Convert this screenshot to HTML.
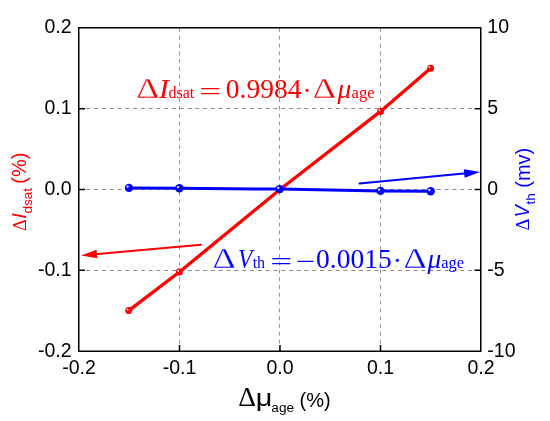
<!DOCTYPE html>
<html><head><meta charset="utf-8"><title>chart</title>
<style>
html,body{margin:0;padding:0;background:#fff;}
body{width:550px;height:421px;overflow:hidden;}
svg{display:block;}

svg text.sn{font-family:'Liberation Sans',Arial,sans-serif;}
svg text.s{font-family:'Liberation Sans',Arial,sans-serif;}
svg text.si{font-family:'Liberation Sans',Arial,sans-serif;font-style:italic;}
svg text.r{font-family:'Liberation Serif','Times New Roman',serif;}
svg text.ri{font-family:'Liberation Serif','Times New Roman',serif;font-style:italic;}
</style></head><body>
<svg width="550" height="421" viewBox="0 0 550 421">
<rect width="550" height="421" fill="#fff"/>
<line x1="179.5" y1="28" x2="179.5" y2="350" stroke="#969696" stroke-width="1" stroke-dasharray="3.9 3.89"/>
<line x1="279.5" y1="28" x2="279.5" y2="350" stroke="#969696" stroke-width="1" stroke-dasharray="3.9 3.89"/>
<line x1="380.5" y1="28" x2="380.5" y2="350" stroke="#969696" stroke-width="1" stroke-dasharray="3.9 3.89"/>
<line x1="78.6" y1="108.5" x2="480" y2="108.5" stroke="#8a8a8a" stroke-width="1" stroke-dasharray="3.9 3.89"/>
<line x1="78.6" y1="189.5" x2="480" y2="189.5" stroke="#8a8a8a" stroke-width="1" stroke-dasharray="3.9 3.89"/>
<line x1="78.6" y1="270.5" x2="480" y2="270.5" stroke="#8a8a8a" stroke-width="1" stroke-dasharray="3.9 3.89"/>
<line x1="79" y1="108.75" x2="85" y2="108.75" stroke="#000" stroke-width="1.5"/>
<line x1="474.5" y1="108.75" x2="480.5" y2="108.75" stroke="#000" stroke-width="1.5"/>
<line x1="79" y1="189.5" x2="85" y2="189.5" stroke="#000" stroke-width="1.5"/>
<line x1="474.5" y1="189.5" x2="480.5" y2="189.5" stroke="#000" stroke-width="1.5"/>
<line x1="79" y1="270.25" x2="85" y2="270.25" stroke="#000" stroke-width="1.5"/>
<line x1="474.5" y1="270.25" x2="480.5" y2="270.25" stroke="#000" stroke-width="1.5"/>
<line x1="179.5" y1="345" x2="179.5" y2="351" stroke="#000" stroke-width="1.5"/>
<line x1="280" y1="345" x2="280" y2="351" stroke="#000" stroke-width="1.5"/>
<line x1="380.5" y1="345" x2="380.5" y2="351" stroke="#000" stroke-width="1.5"/>
<rect x="78.75" y="27.75" width="402" height="323.5" fill="none" stroke="#000" stroke-width="1.5"/>
<polyline points="128.7,310.6 179.4,272.0 280.0,189.5 380.5,111.4 430.6,68.2" fill="none" stroke="#ff0000" stroke-width="3.3" stroke-linejoin="round"/>
<circle cx="128.7" cy="310.6" r="3.5" fill="#ff0000"/><circle cx="127.54" cy="309.55" r="0.95" fill="#fff"/><circle cx="179.4" cy="272.0" r="3.5" fill="#ff0000"/><circle cx="178.25" cy="270.95" r="0.95" fill="#fff"/><circle cx="280.0" cy="189.5" r="3.5" fill="#ff0000"/><circle cx="278.85" cy="188.45" r="0.95" fill="#fff"/><circle cx="380.5" cy="111.4" r="3.5" fill="#ff0000"/><circle cx="379.35" cy="110.35" r="0.95" fill="#fff"/><circle cx="430.6" cy="68.2" r="3.5" fill="#ff0000"/><circle cx="429.45" cy="67.15" r="0.95" fill="#fff"/>
<polyline points="129.0,187.9 179.4,188.3 279.6,189.1 380.5,190.9 430.7,191.2" fill="none" stroke="#0000ff" stroke-width="3" stroke-linejoin="round"/>
<circle cx="129.0" cy="187.9" r="4.2" fill="#0000ff"/><circle cx="127.61" cy="186.64" r="1.13" fill="#fff"/><circle cx="179.4" cy="188.3" r="4.2" fill="#0000ff"/><circle cx="178.01" cy="187.04" r="1.13" fill="#fff"/><circle cx="279.6" cy="189.1" r="4.2" fill="#0000ff"/><circle cx="278.21" cy="187.84" r="1.13" fill="#fff"/><circle cx="380.5" cy="190.9" r="4.2" fill="#0000ff"/><circle cx="379.11" cy="189.64" r="1.13" fill="#fff"/><circle cx="430.7" cy="191.2" r="4.2" fill="#0000ff"/><circle cx="429.31" cy="189.94" r="1.13" fill="#fff"/>
<line x1="201.0" y1="244.8" x2="94.95" y2="254.17" stroke="#ff0000" stroke-width="2" stroke-linecap="round"/><polygon points="81.0,255.4 96.56,249.76 97.31,258.23" fill="#ff0000"/>
<line x1="359.5" y1="183.4" x2="466.26" y2="173.32" stroke="#0000ff" stroke-width="2" stroke-linecap="round"/><polygon points="480.2,172.0 464.67,177.74 463.87,169.27" fill="#0000ff"/>
<text class="s" transform="translate(71.5,33.4) scale(0.975,1)" font-size="20" text-anchor="end">0.2</text>
<text class="s" transform="translate(71.5,114.33) scale(0.975,1)" font-size="20" text-anchor="end">0.1</text>
<text class="s" transform="translate(71.5,195.25) scale(0.975,1)" font-size="20" text-anchor="end">0.0</text>
<text class="s" transform="translate(71.5,276.17) scale(0.975,1)" font-size="20" text-anchor="end">-0.1</text>
<text class="s" transform="translate(71.5,357.1) scale(0.975,1)" font-size="20" text-anchor="end">-0.2</text>
<text class="s" transform="translate(487.3,33.2) scale(0.975,1)" font-size="20" text-anchor="start">10</text>
<text class="s" transform="translate(487.3,114.2) scale(0.975,1)" font-size="20" text-anchor="start">5</text>
<text class="s" transform="translate(487.3,195.2) scale(0.975,1)" font-size="20" text-anchor="start">0</text>
<text class="s" transform="translate(487.3,276.2) scale(0.975,1)" font-size="20" text-anchor="start">-5</text>
<text class="s" transform="translate(487.3,357.2) scale(0.975,1)" font-size="20" text-anchor="start">-10</text>
<text class="s" transform="translate(79,374.1) scale(0.975,1)" font-size="20" text-anchor="middle">-0.2</text>
<text class="s" transform="translate(179.5,374.1) scale(0.975,1)" font-size="20" text-anchor="middle">-0.1</text>
<text class="s" transform="translate(280,374.1) scale(0.975,1)" font-size="20" text-anchor="middle">0.0</text>
<text class="s" transform="translate(380.5,374.1) scale(0.975,1)" font-size="20" text-anchor="middle">0.1</text>
<text class="s" transform="translate(481,374.1) scale(0.975,1)" font-size="20" text-anchor="middle">0.2</text>
<text class="r" transform="translate(238.15,406.10) scale(1.040,1.000)" font-size="26.5">Δ</text>
<text class="sn" transform="translate(255.66,406.00) scale(1.250,1.000)" font-size="23">μ</text>
<text class="s" transform="translate(271.32,411.80)" font-size="13.6">age</text>
<text class="s" transform="translate(299.56,407.20)" font-size="20">(%)</text>
<text class="r" transform="rotate(-90) translate(-231.00,26.40) scale(0.980,1.000)" font-size="18.7" fill="#ff0000" color="#ff0000">Δ</text>
<text class="si" transform="rotate(-90) translate(-218.79,26.40)" font-size="20" fill="#ff0000" color="#ff0000">I</text>
<text class="s" transform="rotate(-90) translate(-213.57,32.30)" font-size="13.6" fill="#ff0000" color="#ff0000">dsat</text>
<text class="s" transform="rotate(-90) translate(-183.64,26.30)" font-size="20" fill="#ff0000" color="#ff0000">(%)</text>
<text class="r" transform="rotate(-90) translate(-230.50,529.40) scale(0.970,1.000)" font-size="19" fill="#0000ff" color="#0000ff">Δ</text>
<text class="si" transform="rotate(-90) translate(-217.36,529.30) scale(0.900,1.000)" font-size="20" fill="#0000ff" color="#0000ff">V</text>
<text class="s" transform="rotate(-90) translate(-204.51,534.80)" font-size="13.6" fill="#0000ff" color="#0000ff">th</text>
<text class="s" transform="rotate(-90) translate(-187.74,529.60)" font-size="20" fill="#0000ff" color="#0000ff">(mv)</text>
<text class="r" transform="translate(136.33,97.80) scale(1.180,1.000)" font-size="30.5" fill="#ff0000" color="#ff0000" stroke="#fff" stroke-width="0.3">Δ</text>
<text class="ri" transform="translate(159.02,97.60) scale(1.080,1.000)" font-size="27.5" fill="#ff0000" color="#ff0000">I</text>
<text class="r" transform="translate(168.42,97.60)" font-size="16" fill="#ff0000" color="#ff0000">dsat</text>
<text class="r" transform="translate(199.26,98.90) scale(1.640,1.000)" font-size="23.7" fill="#ff0000" color="#ff0000">=</text>
<text class="r" transform="translate(225.75,97.60)" font-size="27.5" fill="#ff0000" color="#ff0000">0.9984</text>
<text class="r" transform="translate(302.45,100.10)" font-size="27.5" fill="#ff0000" color="#ff0000">·</text>
<text class="r" transform="translate(312.63,97.80) scale(1.180,1.000)" font-size="30.5" fill="#ff0000" color="#ff0000" stroke="#fff" stroke-width="0.3">Δ</text>
<text class="ri" transform="translate(337.43,97.60)" font-size="27.5" fill="#ff0000" color="#ff0000">μ</text>
<text class="r" transform="translate(351.62,97.60)" font-size="16.6" fill="#ff0000" color="#ff0000">age</text>
<text class="r" transform="translate(212.53,267.80) scale(1.180,1.000)" font-size="30.5" fill="#0000ff" color="#0000ff" stroke="#fff" stroke-width="0.3">Δ</text>
<text class="ri" transform="translate(237.98,267.60) scale(0.850,1.000)" font-size="27.5" fill="#0000ff" color="#0000ff">V</text>
<text class="r" transform="translate(252.64,267.60)" font-size="16" fill="#0000ff" color="#0000ff">th</text>
<text class="r" transform="translate(270.16,268.90) scale(1.640,1.000)" font-size="23.7" fill="#0000ff" color="#0000ff">=</text>
<text class="r" transform="translate(296.09,269.70) scale(1.320,1.000)" font-size="26" fill="#0000ff" color="#0000ff">−</text>
<text class="r" transform="translate(316.05,267.60)" font-size="27.5" fill="#0000ff" color="#0000ff">0.0015</text>
<text class="r" transform="translate(392.85,270.10)" font-size="27.5" fill="#0000ff" color="#0000ff">·</text>
<text class="r" transform="translate(403.43,267.80) scale(1.180,1.000)" font-size="30.5" fill="#0000ff" color="#0000ff" stroke="#fff" stroke-width="0.3">Δ</text>
<text class="ri" transform="translate(427.53,267.60)" font-size="27.5" fill="#0000ff" color="#0000ff">μ</text>
<text class="r" transform="translate(441.32,267.60)" font-size="16.4" fill="#0000ff" color="#0000ff">age</text>
</svg>
</body></html>
